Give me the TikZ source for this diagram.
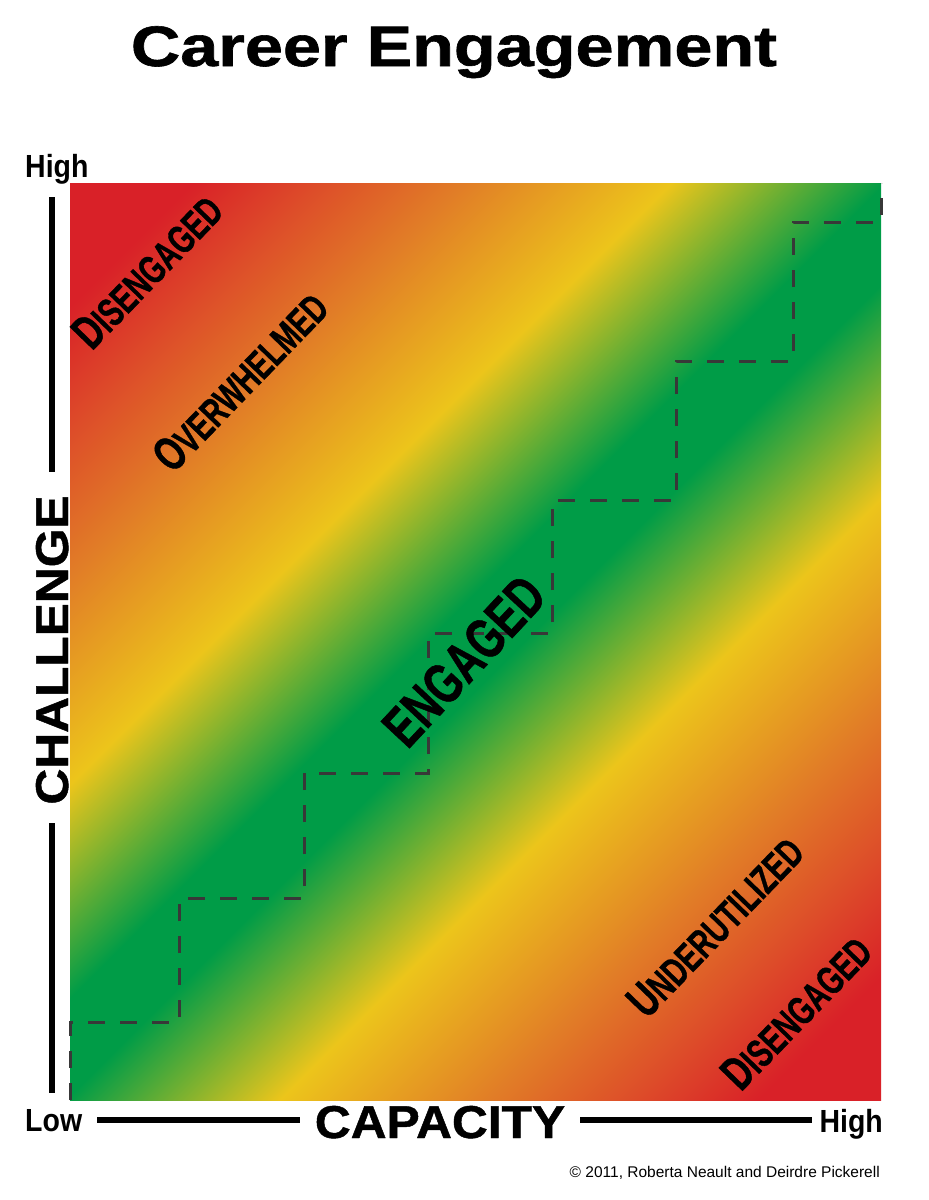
\documentclass[tikz,border=0pt]{standalone}
\usepackage{fontspec}
\setmainfont{Liberation Sans}
\newfontface\heavyfont{Liberation Sans Bold}[FakeBold=1]
\usepackage{graphicx}
\definecolor{cred}{HTML}{D92128}
\definecolor{cro}{HTML}{DD4B29}
\definecolor{corange}{HTML}{E17C27}
\definecolor{cyellow}{HTML}{ECC51B}
\definecolor{cgreen}{HTML}{009C47}
\definecolor{stairgray}{HTML}{383838}
\pgfdeclarehorizontalshading{careergrad}{100bp}{color(0bp)=(cred); color(19.5bp)=(cred); color(24.5bp)=(cro); color(30.5bp)=(corange); color(39.2bp)=(cyellow); color(48bp)=(cgreen); color(52bp)=(cgreen); color(60.8bp)=(cyellow); color(69.5bp)=(corange); color(75.5bp)=(cro); color(80.5bp)=(cred); color(100bp)=(cred)}
\newcommand\sclab[2]{\scalebox{0.7}[1]{{\fontsize{48}{48}\selectfont #1}{\fontsize{40}{40}\selectfont #2}}}
\begin{document}
\begin{tikzpicture}[x=1pt,y=-1pt,
  axisline/.style={line width=6pt,draw=black},
  stairs/.style={line width=3pt,draw=stairgray,dash pattern=on 17pt off 15pt},
  diaglab/.style={rotate=46,inner sep=0pt,font=\heavyfont},
  axlab/.style={inner sep=0pt,font=\bfseries\fontsize{32}{32}\selectfont},
  biglab/.style={inner sep=0pt,font=\heavyfont\fontsize{46}{46}\selectfont}]
\useasboundingbox (0,0) rectangle (929,1200);
% title
\node[inner sep=0pt,anchor=base,font=\heavyfont\fontsize{57}{57}\selectfont] (title) at (454,66) {\scalebox{1.2}[1]{Career Engagement}};
% gradient field
\coordinate (gTL) at (70,183);
\coordinate (gBR) at (881,1100);
\shade[shading=careergrad,shading angle=-45] (gTL) rectangle (gBR);
% staircase
\coordinate (s0) at (70,1100);
\coordinate (s1) at (179,1022);
\coordinate (s2) at (304,898);
\coordinate (s3) at (428,773);
\coordinate (s4) at (552,633);
\coordinate (s5) at (676,500);
\coordinate (s6) at (793,361);
\coordinate (s7) at (881,222);
\coordinate (s8) at (881,183);
\draw[stairs] (s0) |- (s1) |- (s2) |- (s3) |- (s4) |- (s5) |- (s6) |- (s7) -- (s8);
% axis labels
\node[axlab,anchor=base west] (hightop) at (25,177) {\scalebox{0.89}[1]{High}};
\node[axlab,anchor=base west] (low) at (25,1131) {\scalebox{0.89}[1]{Low}};
\node[axlab,anchor=base east] (highright) at (883,1132) {\scalebox{0.89}[1]{High}};
\node[biglab,anchor=base] (capacity) at (440,1138) {\scalebox{1.08}[1]{CAPACITY}};
\node[biglab,anchor=base,rotate=90] (challenge) at (68,650) {\scalebox{1.08}[1]{CHALLENGE}};
% axis lines
\coordinate (v1a) at (52,197); \coordinate (v1b) at (52,472);
\coordinate (v2a) at (52,823); \coordinate (v2b) at (52,1093);
\coordinate (h1a) at (97,1120); \coordinate (h1b) at (300,1120);
\coordinate (h2a) at (580,1120); \coordinate (h2b) at (812,1120);
\draw[axisline] (v1a) -- (v1b);
\draw[axisline] (v2a) -- (v2b);
\draw[axisline] (h1a) -- (h1b);
\draw[axisline] (h2a) -- (h2b);
% diagonal labels
\node[diaglab] (dis1) at (147,271) {\sclab{D}{ISENGAGED}};
\node[diaglab] (over) at (240,381) {\sclab{O}{VERWHELMED}};
\node[diaglab,rotate=1] (eng) at (464,661) {\scalebox{0.72}[1]{\fontsize{57}{57}\selectfont ENGAGED}};
\node[diaglab] (under) at (715,926) {\sclab{U}{NDERUTILIZED}};
\node[diaglab] (dis2) at (796,1012) {\sclab{D}{ISENGAGED}};
% copyright
\node[inner sep=0pt,anchor=base east,font=\fontsize{15.5}{15.5}\selectfont] (copy) at (880,1177) {© 2011, Roberta Neault and Deirdre Pickerell};
\end{tikzpicture}
\end{document}
